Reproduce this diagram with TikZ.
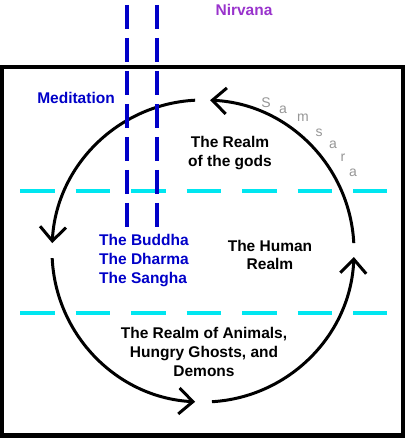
\documentclass[tikz,border=0pt]{standalone}
\usepackage{fontspec}
\setmainfont{Liberation Sans}
\usetikzlibrary{arrows.meta}
\definecolor{nirv}{RGB}{153,51,204}
\definecolor{medblue}{RGB}{0,0,200}
\definecolor{lvl}{RGB}{0,230,240}
\definecolor{samgray}{RGB}{150,150,150}

\begin{document}
\begin{tikzpicture}[x=1pt, y=1pt,
    txt/.style = {font=\fontsize{15.5}{18.8}\selectfont\bfseries, align=center, inner sep=0pt},
    realm/.style = {line width=3.5pt, lvl, dash pattern=on 34.5pt off 21pt},
    refuge/.style = {line width=3.5pt, medblue, dash pattern=on 24pt off 9pt},
    wheel/.style = {line width=3pt, -{Straight Barb[length=14pt, width=26pt]}},
    letter/.style = {font=\fontsize{14}{14}\selectfont, samgray, inner sep=0pt}]
    \useasboundingbox (0,0) rectangle (405,438);
    \coordinate (c) at (203,187);

    \draw[realm] (20,247) -- (387,247);
    \draw[realm] (20,125) -- (387,125);

    \draw[wheel] (c) ++(3:151) arc[start angle=3, end angle=87.3, radius=151];
    \draw[wheel] (c) ++(93:151) arc[start angle=93, end angle=177, radius=151];
    \draw[wheel] (c) ++(182.7:151) arc[start angle=182.7, end angle=267, radius=151];
    \draw[wheel] (c) ++(273.4:151) arc[start angle=273.4, end angle=357.7, radius=151];

    \draw[refuge] (127,433) -- (127,210);
    \draw[refuge] (157,433) -- (157,210);

    \draw[line width=4.5pt] (2,2.5) rectangle (403,371);

    \node[txt, nirv] (nirvana) at (244,428) {Nirvana};
    \node[txt, medblue] (medit) at (76,340) {Meditation};
    \node[txt] (gods) at (230,285) {The Realm\\of the gods};
    \node[txt] (human) at (270,183) {The Human\\Realm};
    \node[txt, medblue, align=left, anchor=west] (refuges) at (99,177.5) {The Buddha\\The Dharma\\The Sangha};
    \node[txt] (animals) at (204,86) {The Realm of Animals,\\Hungry Ghosts, and\\Demons};

    \foreach \ch/\px/\py [count=\i] in {S/266/335, a/283/328, m/303/320, s/319/305, a/333/293, r/343/280, a/353/265}
        \node[letter] (sam\i) at (\px,\py) {\ch};
\end{tikzpicture}
\end{document}
